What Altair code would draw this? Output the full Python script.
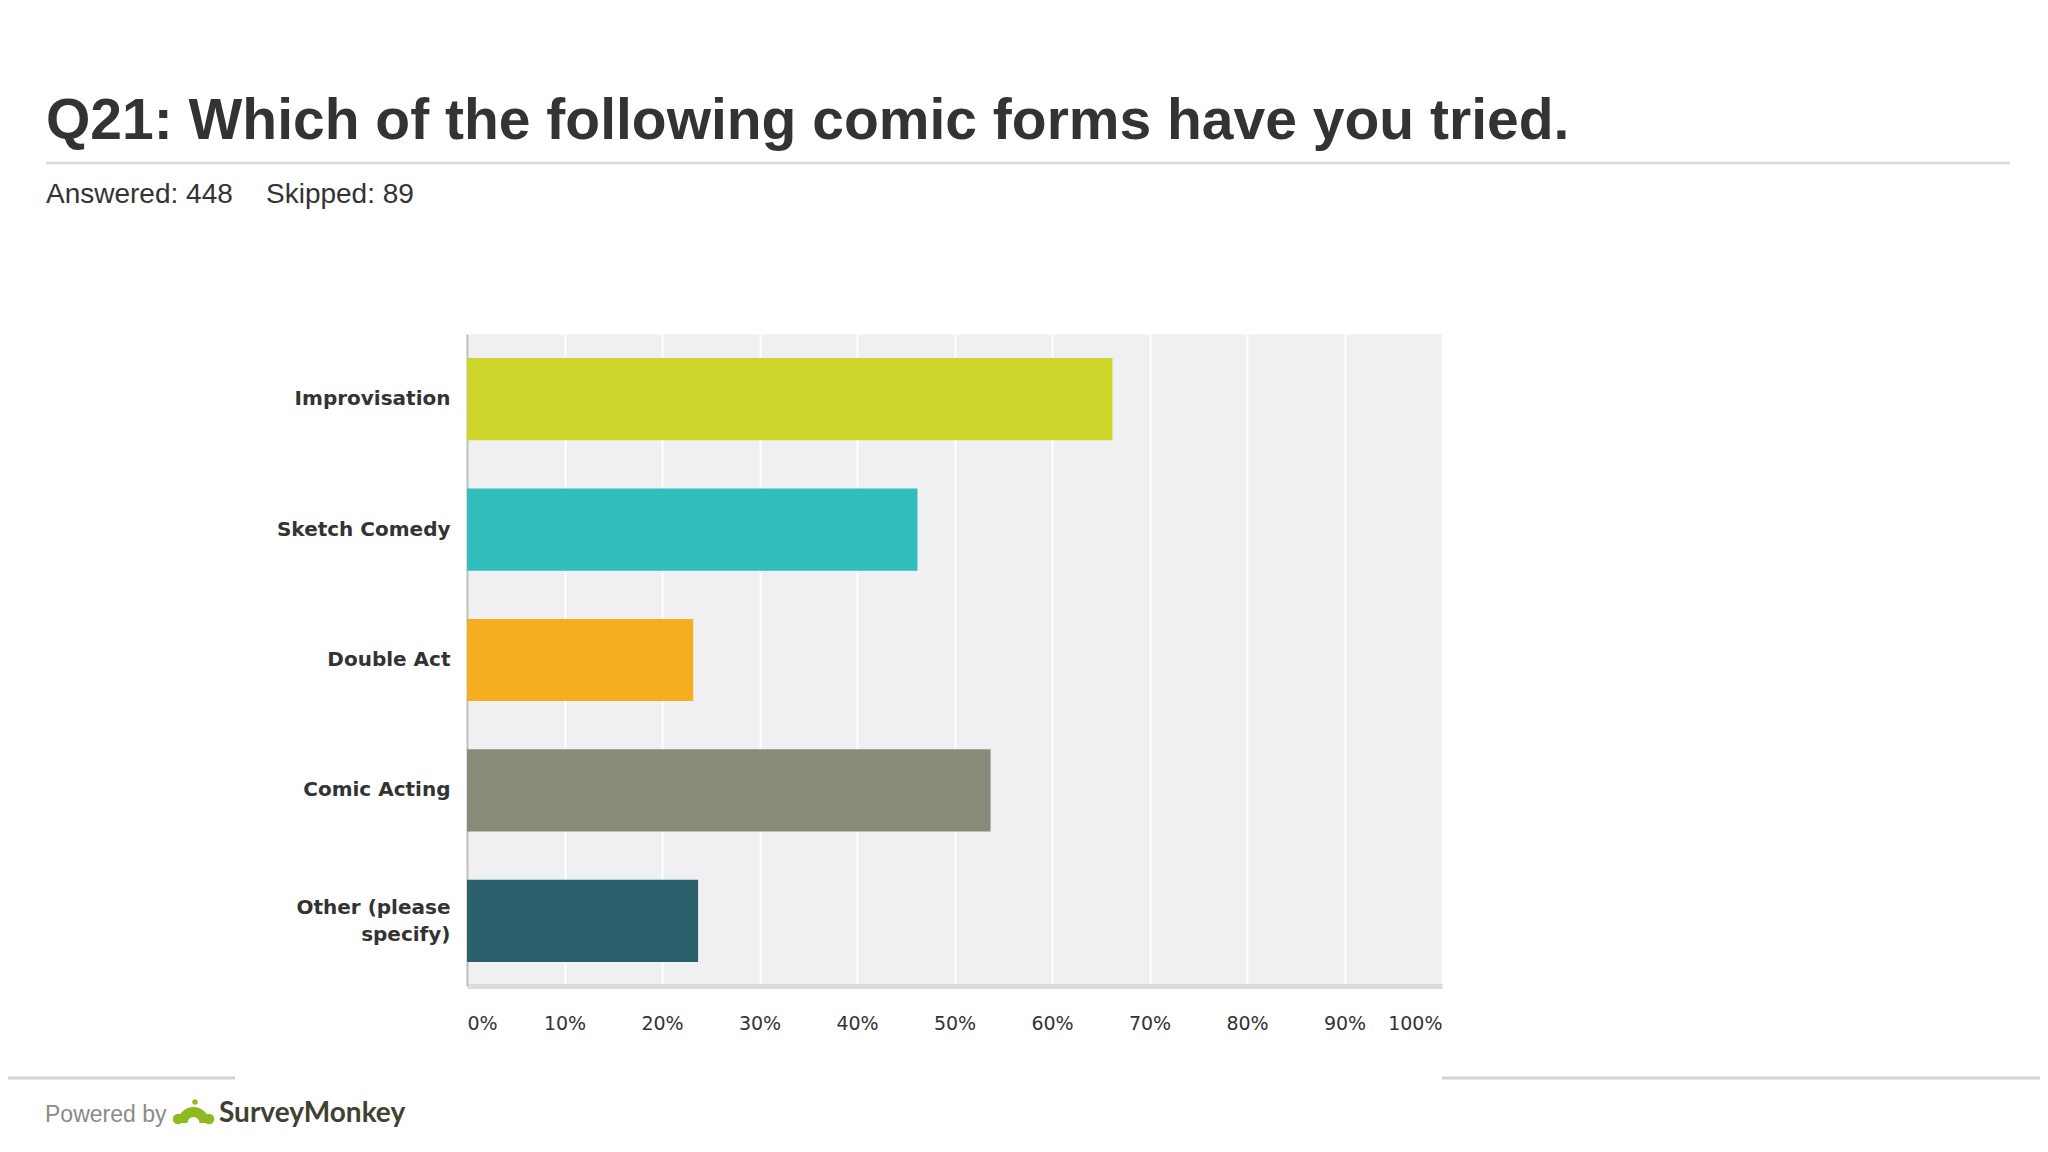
import altair as alt
import pandas as pd

# ---- data ----
categories = ["Improvisation", "Sketch Comedy", "Double Act", "Comic Acting", "Other (please specify)"]
values = [0.662, 0.462, 0.232, 0.537, 0.237]
bar_colors = ["#cdd52b", "#31bebd", "#f5ae20", "#898b79", "#2b5f6c"]
tick_values = [0, 0.1, 0.2, 0.3, 0.4, 0.5, 0.6, 0.7, 0.8, 0.9, 1.0]

title_text = "Q21: Which of the following comic forms have you tried."
answered_text = "Answered: 448"
skipped_text = "Skipped: 89"

df = pd.DataFrame({"category": categories, "value": values})

bars = alt.Chart(df).mark_bar().encode(
    x=alt.X(
        "value:Q",
        scale=alt.Scale(domain=[0, 1], nice=False, zero=True),
        axis=alt.Axis(
            values=tick_values,
            format=".0%",
            title=None,
            orient="bottom",
            ticks=False,
            labelFlush=True,
            labelPadding=28,
            labelFont="DejaVu Sans",
            labelFontSize=19,
            labelColor="#333333",
            domainColor="#dcdcdc",
            domainWidth=5,
            grid=True,
            gridColor="#ffffff",
            gridWidth=2,
        ),
    ),
    y=alt.Y(
        "category:N",
        sort=categories,
        scale=alt.Scale(paddingInner=0.37, paddingOuter=0.185),
        axis=alt.Axis(
            title=None,
            ticks=False,
            grid=False,
            labelPadding=17,
            labelFont="DejaVu Sans",
            labelFontWeight="bold",
            labelFontSize=20,
            labelColor="#333333",
            labelLimit=400,
            labelLineHeight=27,
            labelExpr="datum.value == 'Other (please specify)' ? ['Other (please', 'specify)'] : datum.value",
            labelOffset={
                "condition": {"test": "datum.value == 'Other (please specify)'", "value": -13},
                "value": 0,
            },
            domainColor="#bdbdbd",
            domainWidth=2,
        ),
    ),
    color=alt.Color(
        "category:N",
        scale=alt.Scale(domain=categories, range=bar_colors),
        legend=None,
    ),
)

one = pd.DataFrame({"d": [0]})
base = alt.Chart(one)

title = base.mark_text(
    align="left", baseline="alphabetic", font="Liberation Sans",
    fontWeight="bold", fontSize=57, color="#333333",
).encode(x=alt.value(-421), y=alt.value(-195), text=alt.value(title_text))

sep = base.mark_rule(color="#dadada", strokeWidth=2.5).encode(
    x=alt.value(-421), x2=alt.value(1543), y=alt.value(-171)
)

answered = base.mark_text(
    align="left", baseline="alphabetic", font="Liberation Sans",
    fontSize=28, color="#333333",
).encode(x=alt.value(-421), y=alt.value(-131), text=alt.value(answered_text))

skipped = base.mark_text(
    align="left", baseline="alphabetic", font="Liberation Sans",
    fontSize=28, color="#333333",
).encode(x=alt.value(-201), y=alt.value(-131), text=alt.value(skipped_text))

foot_left = base.mark_rule(color="#d3d3d3", strokeWidth=3).encode(
    x=alt.value(-467), x2=alt.value(-232), y=alt.value(744)
)
foot_right = base.mark_rule(color="#d3d3d3", strokeWidth=3).encode(
    x=alt.value(975), x2=alt.value(1581), y=alt.value(744)
)

powered = base.mark_text(
    align="left", baseline="alphabetic", font="Liberation Sans",
    fontSize=23, color="#8a8a8a",
).encode(x=alt.value(-422), y=alt.value(788), text=alt.value("Powered by"))

logo_arc = base.mark_arc(
    theta=4.712, theta2=7.854, radius=16, radius2=6, color="#8dbb1f"
).encode(x=alt.value(-273.5), y=alt.value(789), color=alt.value("#8dbb1f"))

ear1 = base.mark_point(
    filled=True, shape="circle", size=110, opacity=1
).encode(x=alt.value(-289), y=alt.value(785), color=alt.value("#8dbb1f"))
ear2 = base.mark_point(
    filled=True, shape="circle", size=110, opacity=1
).encode(x=alt.value(-258), y=alt.value(785), color=alt.value("#8dbb1f"))
tuft = base.mark_point(
    filled=True, shape="circle", size=30, opacity=1
).encode(x=alt.value(-272), y=alt.value(768), color=alt.value("#8dbb1f"))

brand = base.mark_text(
    align="left", baseline="alphabetic", font="Lato",
    fontWeight="bold", fontSize=28, color="#3f4230",
).encode(x=alt.value(-248), y=alt.value(788), text=alt.value("SurveyMonkey"))

chart = alt.layer(
    bars, title, sep, answered, skipped, foot_left, foot_right,
    powered, logo_arc, ear1, ear2, tuft, brand,
).properties(
    width=975,
    height=652,
    autosize=alt.AutoSizeParams(type="none"),
    padding={"left": 459, "top": 326, "right": 598, "bottom": 158},
    background="#ffffff",
).configure_view(
    fill="#f0eff1",
    stroke="transparent",
)

chart.save("out.html", embed_options={"renderer": "svg", "actions": False})
